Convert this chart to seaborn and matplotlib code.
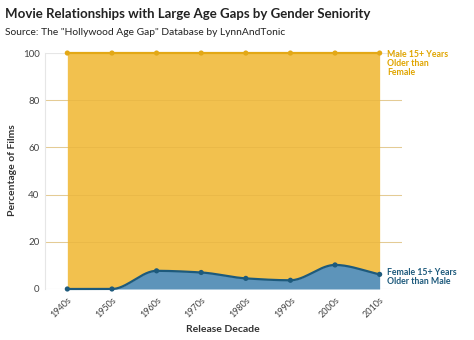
import numpy as np
import matplotlib
matplotlib.use("Agg")
import matplotlib.pyplot as plt
import seaborn as sns
import pandas as pd

decades = ["1940s", "1950s", "1960s", "1970s", "1980s", "1990s", "2000s", "2010s"]
female_older = [0.0, 0.0, 7.7, 7.0, 4.5, 3.7, 10.2, 6.2]
male_older = [100 - v for v in female_older]
y_ticks = [0, 20, 40, 60, 80, 100]

sns.set_theme(style="white")
plt.rcParams["font.family"] = ["Lato", "DejaVu Sans"]

GOLD_FILL = "#F2C14E"
GOLD_LINE = "#E3A816"
BLUE_FILL = "#5D94BA"
BLUE_LINE = "#1D5A7C"

df = pd.DataFrame({"decade": decades, "idx": range(len(decades)),
                   "female": female_older,
                   "total": [f + m for f, m in zip(female_older, male_older)]})


def monotone(x, y, n=30):
    x = np.asarray(x, float); y = np.asarray(y, float)
    h = np.diff(x); d = np.diff(y) / h
    m = np.zeros_like(y)
    m[0] = d[0]; m[-1] = d[-1]
    for i in range(1, len(y) - 1):
        if d[i - 1] * d[i] <= 0:
            m[i] = 0
        else:
            m[i] = 3 * (h[i - 1] + h[i]) / ((2 * h[i] + h[i - 1]) / d[i - 1] + (h[i] + 2 * h[i - 1]) / d[i])
    xs, ys = [], []
    for i in range(len(h)):
        t = np.linspace(0, 1, n, endpoint=(i == len(h) - 1))
        h00 = 2 * t**3 - 3 * t**2 + 1; h10 = t**3 - 2 * t**2 + t
        h01 = -2 * t**3 + 3 * t**2; h11 = t**3 - t**2
        xs.append(x[i] + t * h[i])
        ys.append(h00 * y[i] + h10 * h[i] * m[i] + h01 * y[i + 1] + h11 * h[i] * m[i + 1])
    return np.concatenate(xs), np.concatenate(ys)


fig = plt.figure(figsize=(4.74, 3.4), dpi=100)
ax = fig.add_axes([0.095, 0.15, 0.753, 0.694])

sx, sy = monotone(df["idx"], df["female"])
tx, ty = monotone(df["idx"], df["total"])

for v in y_ticks:
    ax.axhline(v, color="#E6E6E6", lw=0.8, zorder=0)

ax.fill_between(tx, sy, ty, color=GOLD_FILL, lw=0, zorder=1)
ax.fill_between(sx, 0, sy, color=BLUE_FILL, lw=0, zorder=1)
for v in y_ticks[1:-1]:
    ax.axhline(v, color="#E3B244", lw=0.6, zorder=1.5, alpha=0.6)

ax.plot(tx, ty, color=GOLD_LINE, lw=1.6, zorder=3, clip_on=False)
ax.plot(sx, sy, color=BLUE_LINE, lw=1.6, zorder=3, clip_on=False)
sns.scatterplot(data=df, x="idx", y="total", color=GOLD_LINE, s=14, edgecolor="none",
                ax=ax, zorder=4, clip_on=False)
sns.scatterplot(data=df, x="idx", y="female", color=BLUE_LINE, s=14, edgecolor="none",
                ax=ax, zorder=4, clip_on=False)

ax.set_xlim(-0.5, 7.5)
ax.set_ylim(0, 100)
ax.set_yticks(y_ticks)
ax.set_yticklabels([str(v) for v in y_ticks], fontsize=7, color="#444444")
ax.set_xticks(range(len(decades)))
ax.set_xticklabels(decades, rotation=45, ha="right", rotation_mode="anchor", fontsize=6.5, color="#444444")
ax.tick_params(axis="both", length=0, pad=4)
ax.tick_params(axis="x", pad=5)
ax.set_xlabel("")
ax.set_ylabel("")
for s in ["top", "right", "bottom"]:
    ax.spines[s].set_visible(False)
ax.spines["left"].set_color("#E6E6E6")
ax.spines["left"].set_linewidth(0.8)

fig.text(0.47, 0.032, "Release Decade", fontsize=7.5, fontweight="bold", color="#333333",
         ha="center", va="center")
fig.text(0.026, 0.5, "Percentage of Films", fontsize=7.5, fontweight="bold", color="#333333",
         ha="center", va="center", rotation=90)

ax.text(7.17, 101.5, "Male 15+ Years\nOlder than\nFemale",
        color="#E0A500", fontsize=6.3, fontweight="bold", va="top", ha="left", linespacing=1.05,
        clip_on=False)
ax.text(7.17, 5.0, "Female 15+ Years\nOlder than Male",
        color="#1D5A7C", fontsize=6.3, fontweight="bold", va="center", ha="left", linespacing=1.05,
        clip_on=False)

fig.text(0.01, 0.96, "Movie Relationships with Large Age Gaps by Gender Seniority",
         fontsize=9.5, fontweight="bold", color="#222222", va="center", ha="left")
fig.text(0.01, 0.905, 'Source: The "Hollywood Age Gap" Database by LynnAndTonic',
         fontsize=7.4, color="#222222", va="center", ha="left")

fig.savefig("out.png", dpi=100)
